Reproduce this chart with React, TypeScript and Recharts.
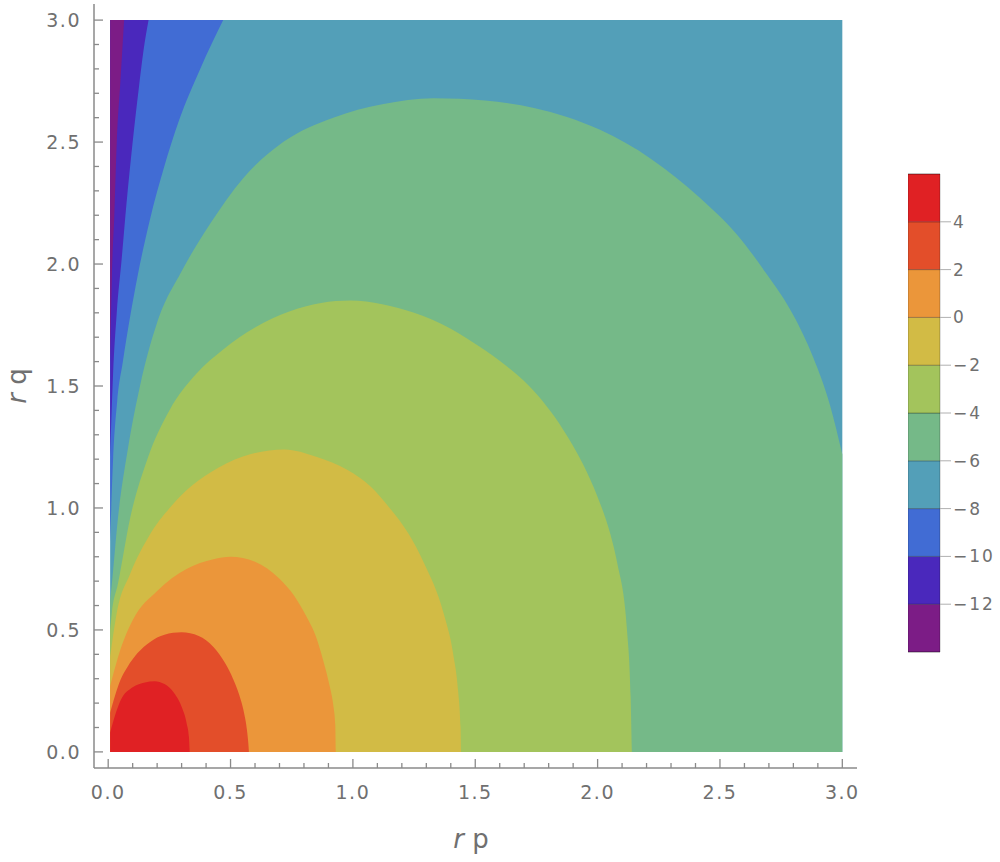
import { ComposedChart, Area, XAxis, YAxis, Label, ReferenceArea } from 'recharts';

// contour boundaries, [rp, rq]
// "hill" contours (region below the curve)
const C4 = [[0.008, 0.08], [0.05, 0.21], [0.1, 0.265], [0.15, 0.285], [0.19, 0.29], [0.23, 0.278], [0.27, 0.24], [0.3, 0.185], [0.32, 0.12], [0.33, 0.06], [0.333, 0]];
const C2 = [[0.008, 0.16], [0.05, 0.295], [0.08, 0.35], [0.12, 0.405], [0.17, 0.45], [0.23, 0.48], [0.3, 0.49], [0.37, 0.475], [0.43, 0.43], [0.48, 0.36], [0.51, 0.3], [0.535, 0.235], [0.555, 0.16], [0.567, 0.09], [0.573, 0.03], [0.575, 0]];
const C0 = [[0.008, 0.27], [0.05, 0.42], [0.1, 0.54], [0.2, 0.66], [0.32, 0.75], [0.43, 0.79], [0.5, 0.8], [0.6, 0.78], [0.7, 0.71], [0.76, 0.64], [0.81, 0.555], [0.85, 0.47], [0.88, 0.37], [0.905, 0.27], [0.92, 0.19], [0.928, 0.11], [0.93, 0]];
const CM2 = [[0.008, 0.39], [0.035, 0.57], [0.09, 0.73], [0.17, 0.89], [0.26, 1.01], [0.34, 1.09], [0.45, 1.165], [0.58, 1.22], [0.72, 1.24], [0.85, 1.21], [0.98, 1.155], [1.07, 1.09], [1.15, 1.0], [1.23, 0.89], [1.29, 0.775], [1.37, 0.57], [1.41, 0.4], [1.43, 0.25], [1.44, 0.1], [1.442, 0]];
const CM4 = [[0.008, 0.5], [0.015, 0.57], [0.04, 0.69], [0.09, 0.96], [0.16, 1.2], [0.25, 1.4], [0.36, 1.55], [0.47, 1.65], [0.6, 1.74], [0.74, 1.805], [0.87, 1.84], [0.99, 1.85], [1.12, 1.835], [1.25, 1.8], [1.4, 1.735], [1.52, 1.66], [1.63, 1.58], [1.72, 1.5], [1.86, 1.32], [1.94, 1.18], [2.0, 1.045], [2.05, 0.9], [2.08, 0.775], [2.12, 0.5], [2.135, 0.225], [2.14, 0]];
const CM6 = [[0.008, 0.62], [0.015, 0.69], [0.04, 0.96], [0.08, 1.24], [0.13, 1.5], [0.2, 1.76], [0.3, 1.97], [0.42, 2.17], [0.55, 2.35], [0.715, 2.5], [0.92, 2.6], [1.12, 2.655], [1.33, 2.68], [1.54, 2.67], [1.74, 2.64], [2.01, 2.55], [2.22, 2.43], [2.42, 2.27], [2.57, 2.12], [2.69, 1.96], [2.8, 1.79], [2.88, 1.62], [2.95, 1.42], [3.0, 1.22]];
// top-left contours (region above the curve)
const CM8 = [[0.008, 0.86], [0.02, 1.2], [0.037, 1.44], [0.06, 1.6], [0.12, 1.95], [0.17, 2.18], [0.225, 2.385], [0.29, 2.59], [0.376, 2.8], [0.47, 3.0]];
const CM10 = [[0.008, 1.21], [0.02, 1.55], [0.035, 1.8], [0.055, 2.02], [0.075, 2.25], [0.1, 2.5], [0.125, 2.72], [0.145, 2.88], [0.165, 3.0]];
const CM12 = [[0.008, 1.6], [0.015, 1.95], [0.025, 2.2], [0.035, 2.5], [0.05, 2.75], [0.065, 3.0]];

const PLOT_X = [0.008, 3.0];
const PLOT_Y = [0, 3.0];

const X_TICKS = [0, 0.1, 0.2, 0.3, 0.4, 0.5, 0.6, 0.7, 0.8, 0.9, 1.0, 1.1, 1.2, 1.3, 1.4, 1.5, 1.6, 1.7, 1.8, 1.9, 2.0, 2.1, 2.2, 2.3, 2.4, 2.5, 2.6, 2.7, 2.8, 2.9, 3.0];
const Y_TICKS = X_TICKS;

// legend
const LEVELS = [-14, -12, -10, -8, -6, -4, -2, 0, 2, 4, 6];
const LEVEL_TICKS = [4, 2, 0, -2, -4, -6, -8, -10, -12];
const BAND_COLORS = ['#7c1c86', '#4a28bc', '#416cd4', '#539fb8', '#75b988', '#a3c45c', '#d2bb45', '#eb963a', '#e34e2a', '#e02124'];

const AXIS = '#8a8a8a';
const TXT = '#707070';
const FONT = '"DejaVu Sans", sans-serif';

const isMajor = (v: number) => Math.abs(v * 2 - Math.round(v * 2)) < 1e-6;

const hill = (c: number[][]) => c.map(([x, y]) => ({ x, r: [PLOT_Y[0], y] }));
const cap = (c: number[][]) => c.map(([x, y]) => ({ x, r: [y, PLOT_Y[1]] }));

const regions = [
  { data: PLOT_X.map((x) => ({ x, r: [PLOT_Y[0], PLOT_Y[1]] })), color: BAND_COLORS[3] },
  { data: cap(CM8), color: BAND_COLORS[2] },
  { data: cap(CM10), color: BAND_COLORS[1] },
  { data: cap(CM12), color: BAND_COLORS[0] },
  { data: hill(CM6), color: BAND_COLORS[4] },
  { data: hill(CM4), color: BAND_COLORS[5] },
  { data: hill(CM2), color: BAND_COLORS[6] },
  { data: hill(C0), color: BAND_COLORS[7] },
  { data: hill(C2), color: BAND_COLORS[8] },
  { data: hill(C4), color: BAND_COLORS[9] },
];

function XTick({ x, y, payload }: any) {
  const v = payload.value;
  const major = isMajor(v);
  return (
    <g>
      <line x1={x} x2={x} y1={y} y2={y - (major ? 9 : 5)} stroke={AXIS} strokeWidth={1.3} />
      {major && (
        <text x={x} y={y + 31} textAnchor="middle" fill={TXT} fontSize={19} fontFamily={FONT} letterSpacing={1.5}>
          {v.toFixed(1)}
        </text>
      )}
    </g>
  );
}

function YTick({ x, y, payload }: any) {
  const v = payload.value;
  const major = isMajor(v);
  return (
    <g>
      <line x1={x} x2={x + (major ? 9 : 5)} y1={y} y2={y} stroke={AXIS} strokeWidth={1.3} />
      {major && (
        <text x={x - 13} y={y + 7} textAnchor="end" fill={TXT} fontSize={19} fontFamily={FONT} letterSpacing={1.5}>
          {v.toFixed(1)}
        </text>
      )}
    </g>
  );
}

function BarTick({ x, y, payload }: any) {
  const v = payload.value;
  return (
    <g>
      <line x1={x} x2={x + 11} y1={y} y2={y} stroke="#b0b0b0" strokeWidth={1} />
      <text x={x + 13} y={y + 6} textAnchor="start" fill={TXT} fontSize={17} fontFamily={FONT} letterSpacing={2}>
        {v < 0 ? '\u2212' + Math.abs(v) : String(v)}
      </text>
    </g>
  );
}

export default function App() {
  return (
    <div style={{ position: 'absolute', left: 0, top: 0, width: 1000, height: 862, background: '#fff' }}>
      <div style={{ position: 'absolute', left: 0, top: 0 }}>
        <ComposedChart width={1000} height={862} margin={{ top: 4, right: 143, left: 0, bottom: 0 }}>
          <XAxis
            type="number"
            dataKey="x"
            domain={[-0.058, 3.06]}
            allowDataOverflow
            ticks={X_TICKS}
            interval={0}
            tickSize={0}
            tickMargin={0}
            tick={<XTick />}
            height={94}
            stroke={AXIS}
            strokeWidth={1.5}
          >
            <Label
              content={() => (
                <text x={471} y={848} textAnchor="middle" fill={TXT} fontSize={26} fontFamily={FONT}>
                  <tspan fontStyle="italic">r</tspan>
                  <tspan> p</tspan>
                </text>
              )}
            />
          </XAxis>
          <YAxis
            type="number"
            domain={[-0.066, 3.066]}
            allowDataOverflow
            ticks={Y_TICKS}
            interval={0}
            tickSize={0}
            tickMargin={0}
            tick={<YTick />}
            width={94}
            stroke={AXIS}
            strokeWidth={1.5}
          >
            <Label
              content={() => (
                <text x={26} y={386} transform="rotate(-90, 26, 386)" textAnchor="middle" fill={TXT} fontSize={26} fontFamily={FONT}>
                  <tspan fontStyle="italic">r</tspan>
                  <tspan> q</tspan>
                </text>
              )}
            />
          </YAxis>
          {regions.map((rg, i) => (
            <Area
              key={i}
              data={rg.data}
              dataKey="r"
              type="monotone"
              fill={rg.color}
              fillOpacity={1}
              stroke="none"
              isAnimationActive={false}
              dot={false}
              activeDot={false}
            />
          ))}
        </ComposedChart>
      </div>
      <div style={{ position: 'absolute', left: 908, top: 0 }}>
        <ComposedChart width={92} height={862} margin={{ top: 174, right: 0, left: 0, bottom: 210 }}>
          <XAxis type="number" dataKey="x" domain={[0, 1]} hide />
          <YAxis
            type="number"
            orientation="right"
            domain={[LEVELS[0], LEVELS[LEVELS.length - 1]]}
            ticks={LEVEL_TICKS}
            interval={0}
            tickSize={0}
            tickMargin={0}
            tick={<BarTick />}
            axisLine={false}
            width={60}
          />
          {BAND_COLORS.map((c, i) => (
            <Area
              key={i}
              data={[0, 1].map((x) => ({ x, r: [LEVELS[i], LEVELS[i + 1]] }))}
              dataKey="r"
              type="linear"
              fill={c}
              fillOpacity={1}
              stroke="rgba(0,0,0,0.25)"
              strokeWidth={1}
              isAnimationActive={false}
              dot={false}
              activeDot={false}
            />
          ))}
          <ReferenceArea
            x1={0}
            x2={1}
            y1={LEVELS[0]}
            y2={LEVELS[LEVELS.length - 1]}
            fill="none"
            stroke="rgba(0,0,0,0.25)"
            strokeWidth={1}
          />
        </ComposedChart>
      </div>
    </div>
  );
}
